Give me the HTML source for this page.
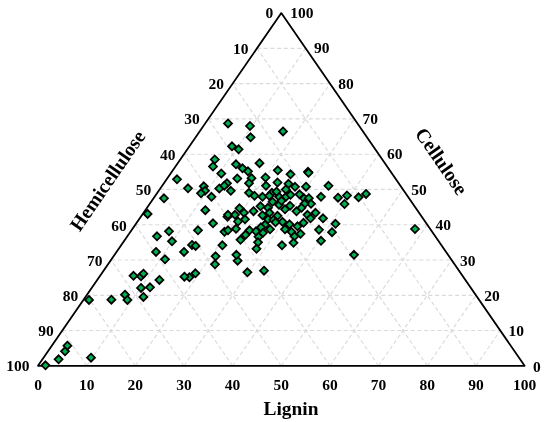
<!DOCTYPE html><html><head><meta charset="utf-8"><style>html,body{margin:0;padding:0;background:#fff}svg{display:block}</style></head><body><svg width="550" height="422" viewBox="0 0 550 422">
<rect width="550" height="422" fill="#fff"/>
<path d="M257.0 48.4L305.6 48.4 M86.7 365.8L305.6 48.4 M86.7 365.8L62.3 330.5 M232.6 83.6L330.0 83.6 M135.3 365.8L330.0 83.6 M135.3 365.8L86.7 295.3 M208.3 118.9L354.3 118.9 M184.0 365.8L354.3 118.9 M184.0 365.8L111.0 260.0 M184.0 154.2L378.6 154.2 M232.6 365.8L378.6 154.2 M232.6 365.8L135.3 224.7 M159.7 189.4L403.0 189.4 M281.3 365.8L403.0 189.4 M281.3 365.8L159.7 189.4 M135.3 224.7L427.3 224.7 M330.0 365.8L427.3 224.7 M330.0 365.8L184.0 154.2 M111.0 260.0L451.6 260.0 M378.6 365.8L451.6 260.0 M378.6 365.8L208.3 118.9 M86.7 295.3L475.9 295.3 M427.3 365.8L475.9 295.3 M427.3 365.8L232.6 83.6 M62.3 330.5L500.3 330.5 M475.9 365.8L500.3 330.5 M475.9 365.8L257.0 48.4" stroke="#dadada" stroke-width="1.15" stroke-dasharray="4 2.7" fill="none"/>
<path d="M281.3 13.1L38.0 365.8L524.6 365.8Z" stroke="#000" stroke-width="1.8" fill="none" stroke-linejoin="round"/>
<g fill="#00b050" stroke="#000" stroke-width="1.75">
<path d="M279.0 192.8l4.0 4.0l-4.0 4.0l-4.0 -4.0z"/>
<path d="M279.0 200.8l4.0 4.0l-4.0 4.0l-4.0 -4.0z"/>
<path d="M272.0 188.8l4.0 4.0l-4.0 4.0l-4.0 -4.0z"/>
<path d="M45.5 361.3l4.0 4.0l-4.0 4.0l-4.0 -4.0z"/>
<path d="M58.6 355.3l4.0 4.0l-4.0 4.0l-4.0 -4.0z"/>
<path d="M65.0 347.3l4.0 4.0l-4.0 4.0l-4.0 -4.0z"/>
<path d="M67.4 341.7l4.0 4.0l-4.0 4.0l-4.0 -4.0z"/>
<path d="M91.0 353.7l4.0 4.0l-4.0 4.0l-4.0 -4.0z"/>
<path d="M89.0 295.9l4.0 4.0l-4.0 4.0l-4.0 -4.0z"/>
<path d="M111.4 295.7l4.0 4.0l-4.0 4.0l-4.0 -4.0z"/>
<path d="M125.0 290.7l4.0 4.0l-4.0 4.0l-4.0 -4.0z"/>
<path d="M127.4 295.9l4.0 4.0l-4.0 4.0l-4.0 -4.0z"/>
<path d="M133.5 271.8l4.0 4.0l-4.0 4.0l-4.0 -4.0z"/>
<path d="M141.0 272.3l4.0 4.0l-4.0 4.0l-4.0 -4.0z"/>
<path d="M143.4 269.7l4.0 4.0l-4.0 4.0l-4.0 -4.0z"/>
<path d="M159.4 275.9l4.0 4.0l-4.0 4.0l-4.0 -4.0z"/>
<path d="M141.0 283.9l4.0 4.0l-4.0 4.0l-4.0 -4.0z"/>
<path d="M150.0 283.3l4.0 4.0l-4.0 4.0l-4.0 -4.0z"/>
<path d="M143.4 292.9l4.0 4.0l-4.0 4.0l-4.0 -4.0z"/>
<path d="M189.4 273.3l4.0 4.0l-4.0 4.0l-4.0 -4.0z"/>
<path d="M184.4 272.7l4.0 4.0l-4.0 4.0l-4.0 -4.0z"/>
<path d="M195.4 269.3l4.0 4.0l-4.0 4.0l-4.0 -4.0z"/>
<path d="M215.0 260.3l4.0 4.0l-4.0 4.0l-4.0 -4.0z"/>
<path d="M165.0 255.3l4.0 4.0l-4.0 4.0l-4.0 -4.0z"/>
<path d="M237.6 256.7l4.0 4.0l-4.0 4.0l-4.0 -4.0z"/>
<path d="M236.4 250.8l4.0 4.0l-4.0 4.0l-4.0 -4.0z"/>
<path d="M247.4 268.3l4.0 4.0l-4.0 4.0l-4.0 -4.0z"/>
<path d="M264.0 266.7l4.0 4.0l-4.0 4.0l-4.0 -4.0z"/>
<path d="M177.0 175.3l4.0 4.0l-4.0 4.0l-4.0 -4.0z"/>
<path d="M188.0 184.3l4.0 4.0l-4.0 4.0l-4.0 -4.0z"/>
<path d="M164.0 194.3l4.0 4.0l-4.0 4.0l-4.0 -4.0z"/>
<path d="M147.6 209.9l4.0 4.0l-4.0 4.0l-4.0 -4.0z"/>
<path d="M203.8 182.3l4.0 4.0l-4.0 4.0l-4.0 -4.0z"/>
<path d="M205.0 186.8l4.0 4.0l-4.0 4.0l-4.0 -4.0z"/>
<path d="M201.0 189.3l4.0 4.0l-4.0 4.0l-4.0 -4.0z"/>
<path d="M211.5 192.8l4.0 4.0l-4.0 4.0l-4.0 -4.0z"/>
<path d="M205.3 206.2l4.0 4.0l-4.0 4.0l-4.0 -4.0z"/>
<path d="M219.3 184.5l4.0 4.0l-4.0 4.0l-4.0 -4.0z"/>
<path d="M227.0 179.3l4.0 4.0l-4.0 4.0l-4.0 -4.0z"/>
<path d="M224.3 181.7l4.0 4.0l-4.0 4.0l-4.0 -4.0z"/>
<path d="M230.8 186.8l4.0 4.0l-4.0 4.0l-4.0 -4.0z"/>
<path d="M213.0 219.3l4.0 4.0l-4.0 4.0l-4.0 -4.0z"/>
<path d="M198.0 226.3l4.0 4.0l-4.0 4.0l-4.0 -4.0z"/>
<path d="M169.0 227.3l4.0 4.0l-4.0 4.0l-4.0 -4.0z"/>
<path d="M157.0 232.3l4.0 4.0l-4.0 4.0l-4.0 -4.0z"/>
<path d="M172.0 237.3l4.0 4.0l-4.0 4.0l-4.0 -4.0z"/>
<path d="M156.0 247.9l4.0 4.0l-4.0 4.0l-4.0 -4.0z"/>
<path d="M184.0 247.9l4.0 4.0l-4.0 4.0l-4.0 -4.0z"/>
<path d="M192.0 240.9l4.0 4.0l-4.0 4.0l-4.0 -4.0z"/>
<path d="M195.6 241.9l4.0 4.0l-4.0 4.0l-4.0 -4.0z"/>
<path d="M222.4 241.3l4.0 4.0l-4.0 4.0l-4.0 -4.0z"/>
<path d="M215.6 252.3l4.0 4.0l-4.0 4.0l-4.0 -4.0z"/>
<path d="M227.5 212.8l4.0 4.0l-4.0 4.0l-4.0 -4.0z"/>
<path d="M228.0 210.8l4.0 4.0l-4.0 4.0l-4.0 -4.0z"/>
<path d="M235.0 210.8l4.0 4.0l-4.0 4.0l-4.0 -4.0z"/>
<path d="M239.5 204.3l4.0 4.0l-4.0 4.0l-4.0 -4.0z"/>
<path d="M244.0 208.8l4.0 4.0l-4.0 4.0l-4.0 -4.0z"/>
<path d="M245.0 215.3l4.0 4.0l-4.0 4.0l-4.0 -4.0z"/>
<path d="M238.0 217.5l4.0 4.0l-4.0 4.0l-4.0 -4.0z"/>
<path d="M236.0 224.8l4.0 4.0l-4.0 4.0l-4.0 -4.0z"/>
<path d="M224.5 227.8l4.0 4.0l-4.0 4.0l-4.0 -4.0z"/>
<path d="M228.0 226.3l4.0 4.0l-4.0 4.0l-4.0 -4.0z"/>
<path d="M228.0 119.4l4.0 4.0l-4.0 4.0l-4.0 -4.0z"/>
<path d="M250.0 122.0l4.0 4.0l-4.0 4.0l-4.0 -4.0z"/>
<path d="M250.6 133.3l4.0 4.0l-4.0 4.0l-4.0 -4.0z"/>
<path d="M232.0 142.3l4.0 4.0l-4.0 4.0l-4.0 -4.0z"/>
<path d="M238.6 145.3l4.0 4.0l-4.0 4.0l-4.0 -4.0z"/>
<path d="M214.8 155.5l4.0 4.0l-4.0 4.0l-4.0 -4.0z"/>
<path d="M213.0 162.5l4.0 4.0l-4.0 4.0l-4.0 -4.0z"/>
<path d="M221.3 169.5l4.0 4.0l-4.0 4.0l-4.0 -4.0z"/>
<path d="M236.0 160.3l4.0 4.0l-4.0 4.0l-4.0 -4.0z"/>
<path d="M242.5 164.3l4.0 4.0l-4.0 4.0l-4.0 -4.0z"/>
<path d="M248.0 167.3l4.0 4.0l-4.0 4.0l-4.0 -4.0z"/>
<path d="M237.3 174.5l4.0 4.0l-4.0 4.0l-4.0 -4.0z"/>
<path d="M259.5 159.2l4.0 4.0l-4.0 4.0l-4.0 -4.0z"/>
<path d="M283.0 127.4l4.0 4.0l-4.0 4.0l-4.0 -4.0z"/>
<path d="M251.5 174.2l4.0 4.0l-4.0 4.0l-4.0 -4.0z"/>
<path d="M249.0 179.2l4.0 4.0l-4.0 4.0l-4.0 -4.0z"/>
<path d="M265.5 173.5l4.0 4.0l-4.0 4.0l-4.0 -4.0z"/>
<path d="M266.0 181.8l4.0 4.0l-4.0 4.0l-4.0 -4.0z"/>
<path d="M277.8 166.3l4.0 4.0l-4.0 4.0l-4.0 -4.0z"/>
<path d="M290.5 170.3l4.0 4.0l-4.0 4.0l-4.0 -4.0z"/>
<path d="M277.5 178.5l4.0 4.0l-4.0 4.0l-4.0 -4.0z"/>
<path d="M288.5 179.8l4.0 4.0l-4.0 4.0l-4.0 -4.0z"/>
<path d="M295.0 182.8l4.0 4.0l-4.0 4.0l-4.0 -4.0z"/>
<path d="M285.8 185.5l4.0 4.0l-4.0 4.0l-4.0 -4.0z"/>
<path d="M276.5 187.7l4.0 4.0l-4.0 4.0l-4.0 -4.0z"/>
<path d="M249.0 188.8l4.0 4.0l-4.0 4.0l-4.0 -4.0z"/>
<path d="M254.5 191.8l4.0 4.0l-4.0 4.0l-4.0 -4.0z"/>
<path d="M262.5 192.8l4.0 4.0l-4.0 4.0l-4.0 -4.0z"/>
<path d="M269.3 191.8l4.0 4.0l-4.0 4.0l-4.0 -4.0z"/>
<path d="M286.0 192.8l4.0 4.0l-4.0 4.0l-4.0 -4.0z"/>
<path d="M290.5 190.8l4.0 4.0l-4.0 4.0l-4.0 -4.0z"/>
<path d="M299.5 190.3l4.0 4.0l-4.0 4.0l-4.0 -4.0z"/>
<path d="M272.5 197.8l4.0 4.0l-4.0 4.0l-4.0 -4.0z"/>
<path d="M281.5 196.8l4.0 4.0l-4.0 4.0l-4.0 -4.0z"/>
<path d="M260.5 202.3l4.0 4.0l-4.0 4.0l-4.0 -4.0z"/>
<path d="M268.0 203.8l4.0 4.0l-4.0 4.0l-4.0 -4.0z"/>
<path d="M290.0 201.8l4.0 4.0l-4.0 4.0l-4.0 -4.0z"/>
<path d="M285.0 205.3l4.0 4.0l-4.0 4.0l-4.0 -4.0z"/>
<path d="M253.5 207.2l4.0 4.0l-4.0 4.0l-4.0 -4.0z"/>
<path d="M296.5 207.3l4.0 4.0l-4.0 4.0l-4.0 -4.0z"/>
<path d="M269.5 208.8l4.0 4.0l-4.0 4.0l-4.0 -4.0z"/>
<path d="M262.5 211.3l4.0 4.0l-4.0 4.0l-4.0 -4.0z"/>
<path d="M277.5 211.8l4.0 4.0l-4.0 4.0l-4.0 -4.0z"/>
<path d="M268.0 215.3l4.0 4.0l-4.0 4.0l-4.0 -4.0z"/>
<path d="M273.5 215.8l4.0 4.0l-4.0 4.0l-4.0 -4.0z"/>
<path d="M282.5 217.8l4.0 4.0l-4.0 4.0l-4.0 -4.0z"/>
<path d="M265.0 220.8l4.0 4.0l-4.0 4.0l-4.0 -4.0z"/>
<path d="M261.0 223.3l4.0 4.0l-4.0 4.0l-4.0 -4.0z"/>
<path d="M289.5 220.3l4.0 4.0l-4.0 4.0l-4.0 -4.0z"/>
<path d="M297.5 222.3l4.0 4.0l-4.0 4.0l-4.0 -4.0z"/>
<path d="M308.0 167.8l4.0 4.0l-4.0 4.0l-4.0 -4.0z"/>
<path d="M308.5 168.8l4.0 4.0l-4.0 4.0l-4.0 -4.0z"/>
<path d="M306.0 182.7l4.0 4.0l-4.0 4.0l-4.0 -4.0z"/>
<path d="M328.5 181.8l4.0 4.0l-4.0 4.0l-4.0 -4.0z"/>
<path d="M304.0 194.3l4.0 4.0l-4.0 4.0l-4.0 -4.0z"/>
<path d="M308.8 194.2l4.0 4.0l-4.0 4.0l-4.0 -4.0z"/>
<path d="M321.0 192.8l4.0 4.0l-4.0 4.0l-4.0 -4.0z"/>
<path d="M338.0 193.7l4.0 4.0l-4.0 4.0l-4.0 -4.0z"/>
<path d="M347.0 191.5l4.0 4.0l-4.0 4.0l-4.0 -4.0z"/>
<path d="M344.5 200.0l4.0 4.0l-4.0 4.0l-4.0 -4.0z"/>
<path d="M311.0 199.8l4.0 4.0l-4.0 4.0l-4.0 -4.0z"/>
<path d="M304.5 199.8l4.0 4.0l-4.0 4.0l-4.0 -4.0z"/>
<path d="M301.5 203.8l4.0 4.0l-4.0 4.0l-4.0 -4.0z"/>
<path d="M307.5 210.8l4.0 4.0l-4.0 4.0l-4.0 -4.0z"/>
<path d="M315.5 208.8l4.0 4.0l-4.0 4.0l-4.0 -4.0z"/>
<path d="M310.5 214.3l4.0 4.0l-4.0 4.0l-4.0 -4.0z"/>
<path d="M323.0 214.3l4.0 4.0l-4.0 4.0l-4.0 -4.0z"/>
<path d="M303.5 218.8l4.0 4.0l-4.0 4.0l-4.0 -4.0z"/>
<path d="M335.5 219.8l4.0 4.0l-4.0 4.0l-4.0 -4.0z"/>
<path d="M319.0 225.8l4.0 4.0l-4.0 4.0l-4.0 -4.0z"/>
<path d="M332.0 228.2l4.0 4.0l-4.0 4.0l-4.0 -4.0z"/>
<path d="M300.5 229.8l4.0 4.0l-4.0 4.0l-4.0 -4.0z"/>
<path d="M249.5 226.3l4.0 4.0l-4.0 4.0l-4.0 -4.0z"/>
<path d="M245.5 230.8l4.0 4.0l-4.0 4.0l-4.0 -4.0z"/>
<path d="M240.5 235.8l4.0 4.0l-4.0 4.0l-4.0 -4.0z"/>
<path d="M256.0 227.3l4.0 4.0l-4.0 4.0l-4.0 -4.0z"/>
<path d="M263.0 228.8l4.0 4.0l-4.0 4.0l-4.0 -4.0z"/>
<path d="M270.0 225.3l4.0 4.0l-4.0 4.0l-4.0 -4.0z"/>
<path d="M258.5 232.8l4.0 4.0l-4.0 4.0l-4.0 -4.0z"/>
<path d="M258.0 238.3l4.0 4.0l-4.0 4.0l-4.0 -4.0z"/>
<path d="M256.5 244.8l4.0 4.0l-4.0 4.0l-4.0 -4.0z"/>
<path d="M282.0 241.3l4.0 4.0l-4.0 4.0l-4.0 -4.0z"/>
<path d="M285.0 225.3l4.0 4.0l-4.0 4.0l-4.0 -4.0z"/>
<path d="M291.5 227.8l4.0 4.0l-4.0 4.0l-4.0 -4.0z"/>
<path d="M294.5 232.3l4.0 4.0l-4.0 4.0l-4.0 -4.0z"/>
<path d="M293.5 238.8l4.0 4.0l-4.0 4.0l-4.0 -4.0z"/>
<path d="M275.5 218.3l4.0 4.0l-4.0 4.0l-4.0 -4.0z"/>
<path d="M321.0 236.8l4.0 4.0l-4.0 4.0l-4.0 -4.0z"/>
<path d="M358.6 193.3l4.0 4.0l-4.0 4.0l-4.0 -4.0z"/>
<path d="M366.0 189.9l4.0 4.0l-4.0 4.0l-4.0 -4.0z"/>
<path d="M354.0 250.8l4.0 4.0l-4.0 4.0l-4.0 -4.0z"/>
<path d="M415.0 225.0l4.0 4.0l-4.0 4.0l-4.0 -4.0z"/>
</g>
<g font-family="'Liberation Serif',serif" font-weight="bold" font-size="15.5" fill="#000">
<text x="38.0" y="389.8" text-anchor="middle">0</text>
<text x="273.2" y="18.4" text-anchor="end">0</text>
<text x="290.3" y="17.8" text-anchor="start">100</text>
<text x="86.7" y="389.8" text-anchor="middle">10</text>
<text x="248.5" y="53.7" text-anchor="end">10</text>
<text x="313.9" y="53.2" text-anchor="start">90</text>
<text x="135.3" y="389.8" text-anchor="middle">20</text>
<text x="224.1" y="88.9" text-anchor="end">20</text>
<text x="338.3" y="88.6" text-anchor="start">80</text>
<text x="184.0" y="389.8" text-anchor="middle">30</text>
<text x="199.8" y="124.2" text-anchor="end">30</text>
<text x="362.6" y="123.9" text-anchor="start">70</text>
<text x="232.6" y="389.8" text-anchor="middle">40</text>
<text x="175.5" y="159.5" text-anchor="end">40</text>
<text x="386.9" y="159.3" text-anchor="start">60</text>
<text x="281.3" y="389.8" text-anchor="middle">50</text>
<text x="151.2" y="194.8" text-anchor="end">50</text>
<text x="411.3" y="194.7" text-anchor="start">50</text>
<text x="330.0" y="389.8" text-anchor="middle">60</text>
<text x="126.8" y="230.8" text-anchor="end">60</text>
<text x="435.6" y="230.1" text-anchor="start">40</text>
<text x="378.6" y="389.8" text-anchor="middle">70</text>
<text x="102.5" y="266.2" text-anchor="end">70</text>
<text x="459.9" y="265.5" text-anchor="start">30</text>
<text x="427.3" y="389.8" text-anchor="middle">80</text>
<text x="78.2" y="300.6" text-anchor="end">80</text>
<text x="484.2" y="300.8" text-anchor="start">20</text>
<text x="475.9" y="389.8" text-anchor="middle">90</text>
<text x="53.8" y="336.2" text-anchor="end">90</text>
<text x="508.6" y="336.2" text-anchor="start">10</text>
<text x="524.6" y="389.8" text-anchor="middle">100</text>
<text x="29.5" y="371.4" text-anchor="end">100</text>
<text x="532.9" y="371.6" text-anchor="start">0</text>
</g>
<g font-family="'Liberation Serif',serif" font-weight="bold" font-size="19.7" fill="#000" text-anchor="middle">
<text x="291" y="414.5" font-size="19.4">Lignin</text>
<text transform="translate(108,181) rotate(-55.44)" y="6">Hemicellulose</text>
<text transform="translate(441,161.5) rotate(55.44)" y="6">Cellulose</text>
</g>
</svg></body></html>
